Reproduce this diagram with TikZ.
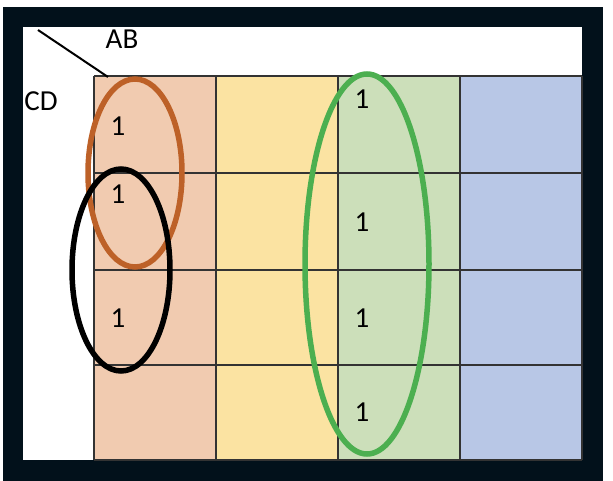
\documentclass[tikz,border=0pt]{standalone}
\usepackage{fontspec}
\setmainfont{Carlito}
\begin{document}
\begin{tikzpicture}[x=1pt,y=-1pt,
  cell/.style={draw=black!80,line width=1.1pt},
  one/.style={font=\fontsize{29}{31}\selectfont},
  ring/.style={line width=5.5pt}]
\definecolor{cO}{HTML}{F1CBB0}\definecolor{cY}{HTML}{FBE3A2}
\definecolor{cG}{HTML}{CCDFBA}\definecolor{cB}{HTML}{B8C7E6}
\definecolor{rO}{HTML}{BD6128}\definecolor{rG}{HTML}{4CAF50}
\definecolor{frame}{HTML}{02111B}
\useasboundingbox (0,0) rectangle (613,481);
\fill[white] (0,0) rectangle (613,481);
\fill[frame] (3,7) rectangle (603,481);
\fill[white] (23,27) rectangle (582,460);
\fill[cO] (94,76) rectangle (216,460);
\fill[cY] (216,76) rectangle (338,460);
\fill[cG] (338,76) rectangle (460,460);
\fill[cB] (460,76) rectangle (582,460);
\foreach \x in {94,216,338,460,582} \draw[cell] (\x,76) -- (\x,460);
\foreach \y in {76,173,270,365,460} \draw[cell] (94,\y) -- (582,\y);
\coordinate (d1) at (38,30); \coordinate (d2) at (108,77);
\draw[line width=2pt] (d1) -- (d2);
\node[one] (ab) at (122,39) {AB};
\node[one] (cd) at (41,101) {CD};
\foreach \n/\x/\y in {a/118/126,b/118/194,c/118/318,d/362/99,e/362/222,f/362/318,g/362/412}
  \node[one] (\n) at (\x,\y) {1};
\draw[ring,rO] (135,173) ellipse [x radius=47, y radius=94];
\draw[ring,black] (121,270) ellipse [x radius=49, y radius=101];
\draw[ring,rG] (367,264) ellipse [x radius=62, y radius=190];
\end{tikzpicture}
\end{document}
